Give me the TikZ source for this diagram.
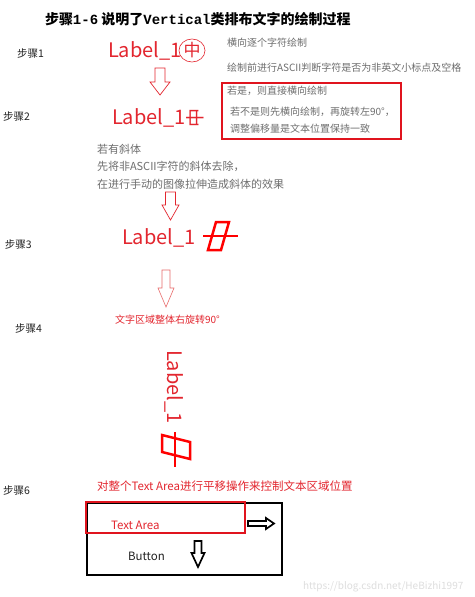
\documentclass[tikz,border=0pt]{standalone}
\usepackage{fontspec}
\setmainfont{Noto Sans CJK SC}
\newfontfamily\monob{Liberation Mono}
\definecolor{lblred}{HTML}{E3262F}
\definecolor{boxred}{HTML}{E0141E}
\definecolor{greytxt}{HTML}{6E6E6E}
\definecolor{steptxt}{HTML}{222222}
\definecolor{pinkred}{HTML}{E86A6A}
\definecolor{wmark}{HTML}{DEDEDE}
\newcommand\hollowdown[7]{\draw[#1] ({#2-#6},#3) -- ({#2+#6},#3) -- ({#2+#6},#4) -- ({#2+#7},#4) -- (#2,#5) -- ({#2-#7},#4) -- ({#2-#6},#4) -- cycle;}
\tikzset{
  txt/.style={inner sep=0pt, outer sep=0pt, anchor=base west},
  steplbl/.style={txt, text=steptxt, font=\fontsize{10.5}{10.5}\selectfont},
  greynote/.style={txt, text=greytxt, font=\fontsize{10}{10}\selectfont},
  greybig/.style={txt, text=greytxt, font=\fontsize{11}{11}\selectfont},
  lbl/.style={txt, text=lblred, font=\fontsize{20}{20}\selectfont},
  rednote/.style={txt, text=lblred, font=\fontsize{10}{10}\selectfont},
}
\begin{document}
\begin{tikzpicture}[x=1pt,y=-1pt]
\useasboundingbox[fill=white] (0,0) rectangle (474,597);

% title
\node[txt, font=\fontsize{14}{14}\selectfont\bfseries] (title) at (45,24) {步骤{\monob\bfseries 1-6} 说明了{\monob\bfseries Vertical}类排布文字的绘制过程};

% step labels
\node[steplbl] (s1) at (17,57) {步骤1};
\node[steplbl] (s2) at (3,120.5) {步骤2};
\node[steplbl] (s3) at (5,248) {步骤3};
\node[steplbl] (s4) at (15,332) {步骤4};
\node[steplbl] (s6) at (3,494) {步骤6};

% step 1
\node[lbl] (l1) at (108,57) {Label\_1};
\draw[lblred, line width=0.6] (192,50.5) ellipse (13 and 11.5);
\node[inner sep=0pt, text=lblred, font=\fontsize{17}{17}\selectfont] (c1) at (192,50.5) {中};
\node[greynote] (n1) at (227,46.5) {横向逐个字符绘制};
\node[greynote] (n2) at (227,71.5) {绘制前进行ASCII判断字符是否为非英文小标点及空格};

\hollowdown{lblred, line width=0.7}{160}{68}{82}{95}{5}{10}

% red info box
\draw[boxred, line width=1.3] (222,83) rectangle (401,139);
\node[greynote] (n3) at (227,94.5) {若是，则直接横向绘制};
\node[greynote] (n4) at (230,115.5) {若不是则先横向绘制，再旋转左90°，};
\node[greynote] (n5) at (230,132) {调整偏移量是文本位置保持一致};

% step 2
\node[lbl] (l2) at (112,124) {Label\_1};
\node[inner sep=0pt, rotate=90, text=lblred, font=\fontsize{19}{19}\selectfont] (c2) at (195.5,117.5) {中};
\node[greybig] (n6) at (97,153.5) {若有斜体};
\node[greybig] (n7) at (97,170.5) {先将非ASCII字符的斜体去除，};
\node[greybig] (n8) at (97,188.5) {在进行手动的图像拉伸造成斜体的效果};

\hollowdown{lblred, line width=0.7}{170.5}{192}{205}{220}{5}{8.5}

% step 3
\node[lbl] (l3) at (122,244) {Label\_1};
\draw[red, line width=2.5, line join=miter] (216,222) -- (229,222) -- (221,250) -- (208,250) -- cycle;
\draw[red, line width=2.5] (203,236) -- (238,236);

\hollowdown{pinkred, line width=0.6}{166}{270}{288}{307}{4}{8}
\node[rednote] (n9) at (115,323) {文字区域整体右旋转90°};

% step 4
\node[lbl, rotate=-90] (l4) at (167,350) {Label\_1};
\draw[red, line width=2.5, line join=miter] (162,435) -- (190,442) -- (190,459) -- (162,452) -- cycle;
\draw[red, line width=2.5] (175,432) -- (175,467);

% step 6
\node[txt, text=lblred, font=\fontsize{11.5}{11.5}\selectfont] (n10) at (97,490) {对整个Text Area进行平移操作来控制文本区域位置};
\draw[black, line width=1.7] (87,503) rectangle (282,575);
\draw[boxred, line width=1.7] (86,502) rectangle (245,533);
\node[txt, text=lblred, font=\fontsize{11.5}{11.5}\selectfont] (ta) at (111,529) {Text Area};
\node[txt, text=steptxt, font=\fontsize{11.5}{11.5}\selectfont] (bt) at (128,560) {Button};
\draw[black, line width=1.7] (248,521) -- (266,521) -- (266,518) -- (274,523.5) -- (266,529) -- (266,526) -- (248,526) -- cycle;
\hollowdown{black, line width=1.7}{198}{541}{553}{567}{3.5}{6.5}

% watermark
\node[txt, text=wmark, font=\fontsize{10}{10}\selectfont] (wm) at (303,589) {https://blog.csdn.net/HeBizhi1997};
\end{tikzpicture}
\end{document}
